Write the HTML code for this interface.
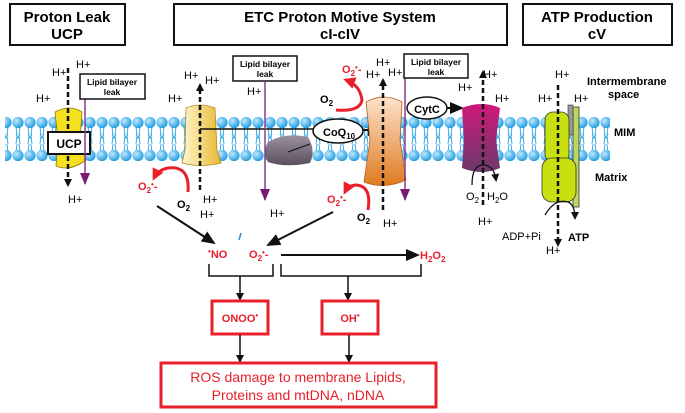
<!DOCTYPE html>
<html><head><meta charset="utf-8"><style>
html,body{margin:0;padding:0;background:#fff;}
svg{display:block;}
text{font-family:"Liberation Sans",sans-serif;}
.b{font-weight:bold;}
.t{font-weight:900;font-size:15px;}
</style></head><body>
<svg width="685" height="413" viewBox="0 0 685 413" xmlns="http://www.w3.org/2000/svg">
<defs>
<radialGradient id="hd" cx="0.35" cy="0.35" r="0.7"><stop offset="0" stop-color="#bfe8ff"/><stop offset="1" stop-color="#1e9be0"/></radialGradient>
<pattern id="lip" patternUnits="userSpaceOnUse" x="0" y="116" width="12" height="46">
<path d="M4 10 L5 20 L4 28 M8 10 L7 20 L8 28 M4 18 L6 22 L8 18 M4 36 L5 28 M8 36 L7 28" stroke="#3aa8e0" stroke-width="1" fill="none"/>
<circle cx="6" cy="6.5" r="5.6" fill="url(#hd)"/>
<circle cx="6" cy="39.5" r="5.6" fill="url(#hd)"/>
</pattern>
<marker id="ak" markerWidth="8" markerHeight="8" refX="6" refY="4" orient="auto" markerUnits="userSpaceOnUse"><path d="M0 0 L8 4 L0 8z" fill="#111"/></marker>
<marker id="akb" markerWidth="14" markerHeight="12" refX="12" refY="6" orient="auto" markerUnits="userSpaceOnUse"><path d="M0 0 L14 6 L0 12z" fill="#111"/></marker>
<marker id="ap" markerWidth="12" markerHeight="10" refX="11" refY="5" orient="auto" markerUnits="userSpaceOnUse"><path d="M0 0 L12 5 L0 10z" fill="#7a1a6a"/></marker>
<marker id="ar" markerWidth="12" markerHeight="12" refX="9" refY="6" orient="auto" markerUnits="userSpaceOnUse"><path d="M0 0 L12 6 L0 12z" fill="#e8202a"/></marker>
<linearGradient id="c1" x1="0" x2="1"><stop offset="0" stop-color="#fff6d0"/><stop offset="1" stop-color="#e8b830"/></linearGradient>
<linearGradient id="c3" x1="0" y1="0" x2="0" y2="1"><stop offset="0" stop-color="#fde3cc"/><stop offset="1" stop-color="#e07a20"/></linearGradient>
<linearGradient id="c4" x1="0" y1="0" x2="0" y2="1"><stop offset="0" stop-color="#d0187a"/><stop offset="1" stop-color="#6a3a6a"/></linearGradient>
<linearGradient id="g2" x1="0" y1="0" x2="0" y2="1"><stop offset="0" stop-color="#9a90a0"/><stop offset="1" stop-color="#5a5060"/></linearGradient>
</defs>

<rect x="10" y="4" width="115" height="41" fill="#fff" stroke="#111" stroke-width="2"/>
<text x="67" y="22" text-anchor="middle" class="t">Proton Leak</text>
<text x="67" y="39" text-anchor="middle" class="t">UCP</text>
<rect x="174" y="4" width="333" height="41" fill="#fff" stroke="#111" stroke-width="2"/>
<text x="340" y="22" text-anchor="middle" class="t">ETC Proton Motive System</text>
<text x="340" y="39" text-anchor="middle" class="t">cI-cIV</text>
<rect x="523" y="4" width="149" height="41" fill="#fff" stroke="#111" stroke-width="2"/>
<text x="597" y="22" text-anchor="middle" class="t">ATP Production</text>
<text x="597" y="39" text-anchor="middle" class="t">cV</text>

<rect x="5" y="116" width="605" height="46" fill="url(#lip)"/>

<path d="M55 112 Q70 104 82 112 L80 140 L86 160 Q70 172 56 166 L58 140z" fill="#f5e020" stroke="#8a7a00" stroke-width="0.8"/>
<line x1="68" y1="68" x2="68" y2="185" stroke="#111" stroke-width="2.5" stroke-dasharray="5,3" marker-end="url(#ak)"/>
<rect x="48" y="132" width="42" height="22" fill="#fff" stroke="#111" stroke-width="2"/>
<text x="69" y="148" text-anchor="middle" class="b" font-size="12">UCP</text>
<line x1="85" y1="99" x2="85" y2="184" stroke="#8a3a8a" stroke-width="1.5" marker-end="url(#ap)"/>
<rect x="80" y="74" width="65" height="25" fill="#fff" stroke="#111" stroke-width="1.5"/>
<text x="112" y="85" text-anchor="middle" class="b" font-size="8.5">Lipid bilayer</text>
<text x="112" y="95" text-anchor="middle" class="b" font-size="8.5">leak</text>
<text x="52" y="76" font-size="11">H+</text><text x="76" y="68" font-size="11">H+</text><text x="36" y="102" font-size="11">H+</text><text x="68" y="203" font-size="11">H+</text>

<path d="M186 108 Q200 102 215 108 L217 150 L221 163 Q200 168 182 163 L185 150z" fill="url(#c1)" stroke="#b08a20" stroke-width="0.8"/>
<line x1="200" y1="190" x2="200" y2="85" stroke="#111" stroke-width="2.5" stroke-dasharray="5,3" marker-end="url(#ak)"/>
<line x1="200" y1="129" x2="317" y2="129" stroke="#111" stroke-width="1.5"/>
<text x="184" y="79" font-size="11">H+</text><text x="205" y="84" font-size="11">H+</text><text x="168" y="102" font-size="11">H+</text>
<text x="203" y="203" font-size="11">H+</text><text x="200" y="218" font-size="11">H+</text>
<path d="M268 142 Q285 132 308 137 Q316 150 310 163 Q285 168 268 162 Q262 152 268 142z" fill="url(#g2)"/>
<line x1="288" y1="152" x2="310" y2="144" stroke="#111" stroke-width="1"/>
<line x1="265" y1="82" x2="265" y2="200" stroke="#8a3a8a" stroke-width="1.5" marker-end="url(#ap)"/>
<rect x="233" y="56" width="64" height="25" fill="#fff" stroke="#111" stroke-width="1.5"/>
<text x="265" y="67" text-anchor="middle" class="b" font-size="8.5">Lipid bilayer</text>
<text x="265" y="77" text-anchor="middle" class="b" font-size="8.5">leak</text>
<text x="247" y="95" font-size="11">H+</text><text x="270" y="217" font-size="11">H+</text>
<ellipse cx="338" cy="131" rx="25" ry="12" fill="#fff" stroke="#111" stroke-width="1.5"/>
<text x="323" y="136" class="b" font-size="11">CoQ<tspan font-size="8" dy="3">10</tspan></text>
<line x1="363" y1="130" x2="380" y2="130" stroke="#111" stroke-width="2" marker-end="url(#akb)"/>

<path d="M366 102 Q384 92 402 102 L400 140 L406 180 Q384 190 364 182 L370 140z" fill="url(#c3)" stroke="#b06020" stroke-width="0.8"/>
<line x1="383" y1="210" x2="383" y2="80" stroke="#111" stroke-width="2.5" stroke-dasharray="5,3" marker-end="url(#ak)"/>
<text x="366" y="78" font-size="11">H+</text><text x="376" y="66" font-size="11">H+</text><text x="388" y="76" font-size="11">H+</text>
<text x="383" y="227" font-size="11">H+</text>
<line x1="405" y1="78" x2="405" y2="200" stroke="#8a3a8a" stroke-width="1.5" marker-end="url(#ap)"/>
<rect x="404" y="54" width="64" height="24" fill="#fff" stroke="#111" stroke-width="1.5"/>
<text x="436" y="65" text-anchor="middle" class="b" font-size="8.5">Lipid bilayer</text>
<text x="436" y="75" text-anchor="middle" class="b" font-size="8.5">leak</text>
<ellipse cx="427" cy="108" rx="20" ry="11" fill="#fff" stroke="#111" stroke-width="1.5"/>
<text x="427" y="113" text-anchor="middle" class="b" font-size="11">CytC</text>
<line x1="447" y1="108" x2="462" y2="108" stroke="#111" stroke-width="2" marker-end="url(#akb)"/>

<path d="M462 108 Q482 100 500 108 L496 140 L500 168 Q482 176 462 168 L464 140z" fill="url(#c4)"/>
<line x1="483" y1="205" x2="483" y2="72" stroke="#111" stroke-width="2.5" stroke-dasharray="5,3" marker-end="url(#ak)"/>
<path d="M472 185 Q472 165 483 165 Q494 165 496 180" fill="none" stroke="#111" stroke-width="1.3" marker-end="url(#ak)"/>
<text x="466" y="200" font-size="11">O<tspan font-size="8" dy="3">2</tspan></text>
<text x="487" y="200" font-size="11">H<tspan font-size="8" dy="3">2</tspan><tspan dy="-3">O</tspan></text>
<text x="458" y="91" font-size="11">H+</text><text x="483" y="78" font-size="11">H+</text><text x="495" y="102" font-size="11">H+</text><text x="478" y="225" font-size="11">H+</text>

<rect x="573" y="107" width="6" height="100" fill="#b8d860" stroke="#333" stroke-width="0.8"/>
<rect x="568" y="105" width="5" height="30" fill="#999" stroke="#333" stroke-width="0.6"/>
<rect x="545" y="112" width="24" height="50" rx="8" fill="#c8e010" stroke="#333" stroke-width="0.8"/>
<rect x="542" y="158" width="34" height="44" rx="10" fill="#c8e010" stroke="#333" stroke-width="0.8"/>
<line x1="558" y1="85" x2="558" y2="245" stroke="#111" stroke-width="2.5" stroke-dasharray="5,3" marker-end="url(#ak)"/>
<path d="M545 215 Q555 198 568 202 Q575 205 575 218" fill="none" stroke="#111" stroke-width="1.3" marker-end="url(#ak)"/>
<text x="502" y="240" font-size="11">ADP+Pi</text>
<text x="568" y="241" class="b" font-size="11">ATP</text>
<text x="555" y="78" font-size="11">H+</text><text x="538" y="102" font-size="11">H+</text><text x="574" y="102" font-size="11">H+</text><text x="546" y="254" font-size="11">H+</text>
<text x="587" y="85" class="b" font-size="11">Intermembrane</text>
<text x="608" y="98" class="b" font-size="11">space</text>
<text x="614" y="136" class="b" font-size="11">MIM</text>
<text x="595" y="181" class="b" font-size="11">Matrix</text>

<path d="M188 192 Q190 165 168 168 Q158 170 154 178" fill="none" stroke="#e8202a" stroke-width="3" marker-end="url(#ar)"/>
<text x="138" y="190" class="b" font-size="11" fill="#e8202a">O<tspan font-size="8" dy="3">2</tspan><tspan dy="-6" font-size="8">•</tspan><tspan dy="3">-</tspan></text>
<text x="177" y="208" class="b" font-size="11">O<tspan font-size="8" dy="3">2</tspan></text>
<path d="M368 210 Q372 185 355 185 Q348 186 345 192" fill="none" stroke="#e8202a" stroke-width="3" marker-end="url(#ar)"/>
<text x="327" y="203" class="b" font-size="11" fill="#e8202a">O<tspan font-size="8" dy="3">2</tspan><tspan dy="-6" font-size="8">•</tspan><tspan dy="3">-</tspan></text>
<text x="357" y="221" class="b" font-size="11">O<tspan font-size="8" dy="3">2</tspan></text>
<path d="M336 110 Q360 112 362 100 Q360 85 346 80" fill="none" stroke="#e8202a" stroke-width="3" marker-end="url(#ar)"/>
<text x="342" y="73" class="b" font-size="11" fill="#e8202a">O<tspan font-size="8" dy="3">2</tspan><tspan dy="-6" font-size="8">•</tspan><tspan dy="3">-</tspan></text>
<text x="320" y="103" class="b" font-size="11">O<tspan font-size="8" dy="3">2</tspan></text>

<line x1="157" y1="206" x2="214" y2="243" stroke="#111" stroke-width="2" marker-end="url(#akb)"/>
<line x1="333" y1="212" x2="268" y2="245" stroke="#111" stroke-width="2" marker-end="url(#akb)"/>
<line x1="241" y1="233" x2="239" y2="240" stroke="#2a8ad8" stroke-width="1.5"/>
<text x="208" y="258" class="b" font-size="11" fill="#e8202a"><tspan font-size="8" dy="-4">•</tspan><tspan dy="4">NO</tspan></text>
<text x="249" y="258" class="b" font-size="11" fill="#e8202a">O<tspan font-size="8" dy="3">2</tspan><tspan dy="-6" font-size="8">•</tspan><tspan dy="3">-</tspan></text>
<line x1="281" y1="255" x2="418" y2="255" stroke="#111" stroke-width="2" marker-end="url(#akb)"/>
<text x="420" y="259" class="b" font-size="11" fill="#e8202a">H<tspan font-size="8" dy="3">2</tspan><tspan dy="-3">O</tspan><tspan font-size="8" dy="3">2</tspan></text>
<path d="M209 264 V276 H273 V264" fill="none" stroke="#111" stroke-width="1.5"/>
<path d="M281 264 V276 H421 V264" fill="none" stroke="#111" stroke-width="1.5"/>
<line x1="240" y1="276" x2="240" y2="299" stroke="#111" stroke-width="1.5" marker-end="url(#ak)"/>
<line x1="348" y1="276" x2="348" y2="299" stroke="#111" stroke-width="1.5" marker-end="url(#ak)"/>
<rect x="212" y="301" width="56" height="33" fill="#fff" stroke="#e8202a" stroke-width="3"/>
<text x="240" y="322" text-anchor="middle" class="b" font-size="11" fill="#e8202a">ONOO<tspan font-size="8" dy="-4">•</tspan></text>
<rect x="322" y="301" width="56" height="33" fill="#fff" stroke="#e8202a" stroke-width="3"/>
<text x="350" y="322" text-anchor="middle" class="b" font-size="11" fill="#e8202a">OH<tspan font-size="8" dy="-4">•</tspan></text>
<line x1="240" y1="335" x2="240" y2="361" stroke="#111" stroke-width="1.5" marker-end="url(#ak)"/>
<line x1="349" y1="335" x2="349" y2="361" stroke="#111" stroke-width="1.5" marker-end="url(#ak)"/>
<rect x="161" y="363" width="275" height="44" fill="#fff" stroke="#e8202a" stroke-width="3"/>
<text x="298" y="382" text-anchor="middle" font-size="14" fill="#e8202a">ROS damage to membrane Lipids,</text>
<text x="298" y="400" text-anchor="middle" font-size="14" fill="#e8202a">Proteins and mtDNA, nDNA</text>
</svg>
</body></html>
